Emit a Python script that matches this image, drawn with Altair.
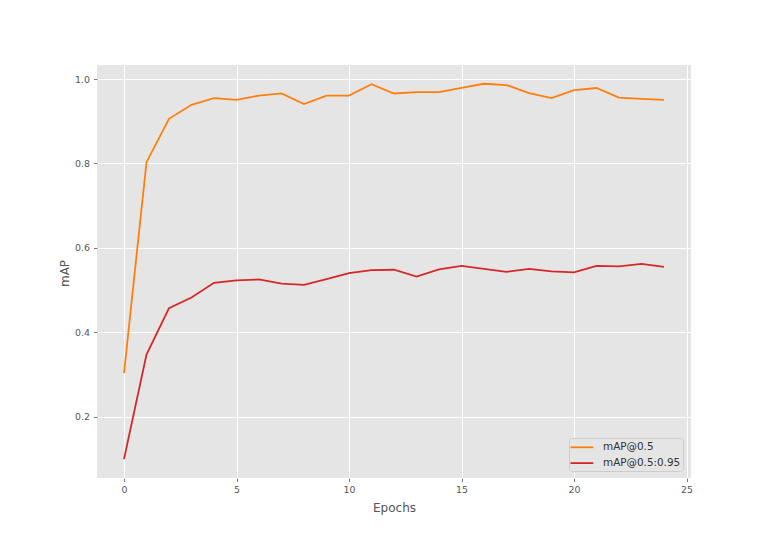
import altair as alt
import pandas as pd

epochs = list(range(25))
map50 = [0.303, 0.803, 0.906, 0.939, 0.955, 0.951, 0.961, 0.966, 0.941, 0.961,
         0.961, 0.988, 0.966, 0.969, 0.969, 0.979, 0.989, 0.986, 0.967, 0.955,
         0.974, 0.979, 0.956, 0.953, 0.951]
map5095 = [0.099, 0.347, 0.457, 0.482, 0.517, 0.523, 0.525, 0.515, 0.512, 0.526,
           0.540, 0.547, 0.548, 0.532, 0.549, 0.557, 0.550, 0.543, 0.550, 0.544,
           0.542, 0.557, 0.556, 0.562, 0.555]
series = ["mAP@0.5", "mAP@0.5:0.95"]
colors = ["#FF7F0E", "#D62728"]
x_ticks = [0, 5, 10, 15, 20, 25]
y_ticks = [0.2, 0.4, 0.6, 0.8, 1.0]

rows = []
for name, vals in zip(series, [map50, map5095]):
    for e, v in zip(epochs, vals):
        rows.append({"epoch": e, "value": v, "series": name})
df = pd.DataFrame(rows)

FONT = "DejaVu Sans"

chart = alt.Chart(df).mark_line(strokeWidth=1.8).encode(
    x=alt.X("epoch:Q",
            scale=alt.Scale(domain=[-1.2, 25.2], nice=False, zero=False),
            axis=alt.Axis(values=x_ticks, format="d", title="Epochs",
                          titleX=297, titleY=33.7, titleBaseline="alphabetic")),
    y=alt.Y("value:Q",
            scale=alt.Scale(domain=[0.0542, 1.0335], nice=False, zero=False),
            axis=alt.Axis(values=y_ticks, format=".1f", title="mAP",
                          titleX=-28.4, titleY=208, titleBaseline="alphabetic")),
    color=alt.Color("series:N",
                    scale=alt.Scale(domain=series, range=colors),
                    legend=alt.Legend(title=None, orient="none",
                                      legendX=472, legendY=373,
                                      fillColor="#E5E5E5", strokeColor="#CCCCCC",
                                      cornerRadius=3, padding=2.3,
                                      symbolType="M-1.9,0H1.9", symbolSize=144,
                                      symbolStrokeWidth=1.8, symbolOffset=3.6,
                                      labelFont=FONT, labelFontSize=10.4,
                                      labelColor="#333333", labelOffset=14.2,
                                      rowPadding=2.8)),
).properties(
    width=594,
    height=413,
    autosize=alt.AutoSizeParams(type="none"),
    padding={"left": 89, "top": 57, "right": 69, "bottom": 52},
    background="white",
).configure_view(
    fill="#E5E5E5", strokeWidth=0
).configure_axis(
    domain=False, grid=True, gridColor="white", gridWidth=1,
    tickColor="#555555", tickSize=3.5, tickWidth=0.8,
    labelColor="#555555", labelFont=FONT, labelFontSize=9.4, labelPadding=4,
    titleColor="#555555", titleFont=FONT, titleFontSize=12, titleFontWeight="normal",
)

chart.save("out.html", embed_options={"renderer": "svg", "actions": False})
